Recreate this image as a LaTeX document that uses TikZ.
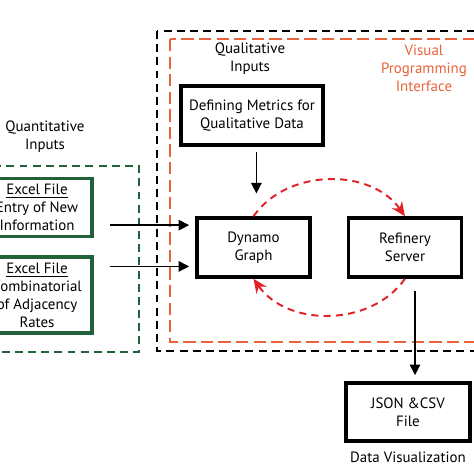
\documentclass[tikz,border=0pt]{standalone}
\usepackage{fontspec}
\setmainfont{PT Sans}
\usetikzlibrary{arrows.meta, positioning}
\definecolor{vpiorange}{RGB}{232,98,58}
\definecolor{loopred}{RGB}{226,32,40}
\definecolor{xlgreen}{RGB}{34,98,58}
\tikzset{
	txt/.style={align=center, font=\fontsize{8.5}{10.2}\selectfont},
	block/.style={txt, draw, line width=2pt, minimum width=2.26cm, minimum height=1.18cm},
	xlblock/.style={block, draw=xlgreen, minimum width=2.2cm},
	flow/.style={-{Triangle[length=6pt,width=6pt]}, line width=0.8pt},
	loop/.style={-{Stealth[length=8pt,width=7pt]}, loopred, line width=1.1pt, dash pattern=on 4pt off 3pt},
	groupbox/.style={line width=1.6pt, dash pattern=on 4.5pt off 3pt}
}
\begin{document}
\begin{tikzpicture}[x=0.02cm, y=-0.02cm]
		\clip (0,0) rectangle (474,474);
		% group boxes
		\draw[groupbox] (157,31) rectangle (490,351);
		\draw[groupbox, vpiorange, dash pattern=on 7pt off 3pt] (170,39) rectangle (485,342);
		\draw[groupbox, xlgreen] (-10,166) rectangle (139,352);
		
		\node[txt] (quant) at (45,136.5) {Quantitative\\Inputs};
		\node[txt] (qual) at (250,59) {Qualitative\\Inputs};
		\node[txt, text=vpiorange] (vpi) at (424,68) {Visual\\Programming\\Interface};
		
		\node[xlblock, minimum height=1.14cm] (xl1) at (37,207.5) {\underline{Excel File}\\Entry of New\\Information};
		\node[xlblock, minimum height=1.48cm] (xl2) at (37,295) {\underline{Excel File}\\Combinatorial\\of Adjacency\\Rates};
		\node[block, minimum width=2.84cm] (def) at (252,115.5) {Defining Metrics for\\Qualitative Data};
		\node[block] (dyn) at (253.5,247.5) {Dynamo\\Graph};
		\node[block, right=0.7cm of dyn] (ref) {Refinery\\Server};
		\node[block, minimum width=2.48cm, minimum height=1.16cm] (json) at (408,412) {JSON \&CSV\\File};
		\node[txt, below=0.05cm of json] (vis) {Data Visualization};
		
		\draw[flow, shorten <=9pt, shorten >=3.5pt] (dyn.159 -| xl1.east) -- (dyn.159);
		\draw[flow, shorten <=9pt, shorten >=3.5pt] (dyn.198 -| xl2.east) -- (dyn.198);
		\draw[flow, shorten <=3pt, shorten >=13pt] ([xshift=2.5pt]def.south) -- ([xshift=2.5pt]def.south |- dyn.north);
		\draw[flow, shorten <=7pt, shorten >=3.5pt] ([xshift=4pt]json.north |- ref.south) -- ([xshift=4pt]json.north);
		
		\draw (dyn.north) edge[loop, bend left=55] (ref.north)
			  %
			  (ref.south) edge[loop, bend left=55] (dyn.south)
		;
	\end{tikzpicture}
\end{document}
